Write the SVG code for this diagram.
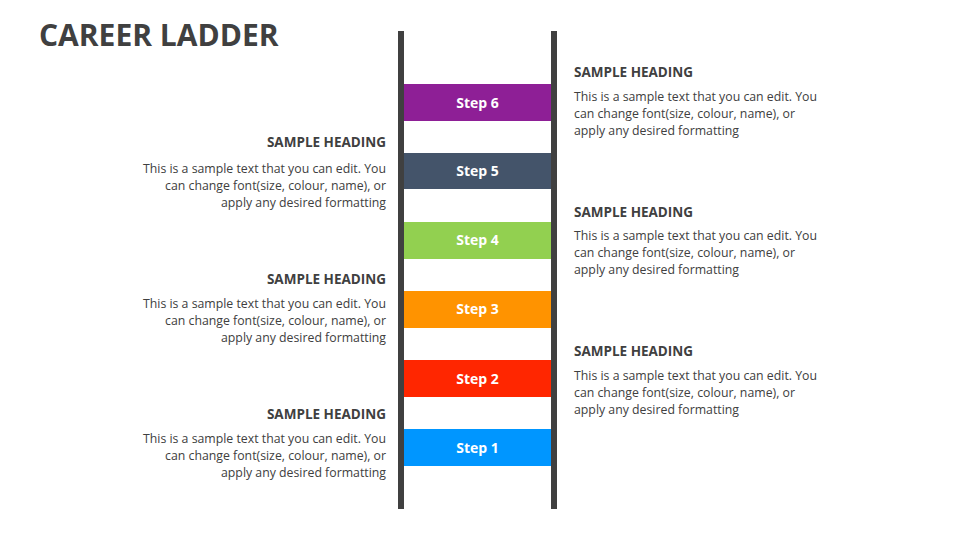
<svg xmlns="http://www.w3.org/2000/svg" width="960" height="540" viewBox="0 0 960 540">
<style>
.t{font-family:"Open Sans","Liberation Sans",sans-serif;fill:#404040}
.h{font-size:13.5px;font-weight:bold}
.b{font-size:12.3px}
.s{font-family:"Open Sans","Liberation Sans",sans-serif;font-size:14px;font-weight:bold;fill:#fff;text-anchor:middle}
.rail{fill:#404040}
</style>
<rect width="960" height="540" fill="#fff"/>
<text x="39" y="46" class="t" style="font-size:30px;font-weight:bold">CAREER LADDER</text>
<g id="rails"><rect class="rail" x="398" y="31" width="6" height="478"/><rect class="rail" x="551" y="31" width="6" height="478"/></g>
<g id="step6"><rect x="404" y="84" width="147" height="37" fill="#8E1F96"/><text class="s" x="477.5" y="108">Step 6</text></g>
<g id="step5"><rect x="404" y="153" width="147" height="36" fill="#44546A"/><text class="s" x="477.5" y="176">Step 5</text></g>
<g id="step4"><rect x="404" y="222" width="147" height="37" fill="#92D050"/><text class="s" x="477.5" y="245">Step 4</text></g>
<g id="step3"><rect x="404" y="291" width="147" height="37" fill="#FF9300"/><text class="s" x="477.5" y="314">Step 3</text></g>
<g id="step2"><rect x="404" y="360" width="147" height="37" fill="#FF2600"/><text class="s" x="477.5" y="384">Step 2</text></g>
<g id="step1"><rect x="404" y="429" width="147" height="37" fill="#0096FF"/><text class="s" x="477.5" y="453">Step 1</text></g>
<g id="text-r1" class="t"><text class="h" x="574" y="77">SAMPLE HEADING</text><text class="b" x="574" y="101">This is a sample text that you can edit. You</text><text class="b" x="574" y="118">can change font(size, colour, name), or</text><text class="b" x="574" y="135">apply any desired formatting</text></g>
<g id="text-r2" class="t"><text class="h" x="574" y="217">SAMPLE HEADING</text><text class="b" x="574" y="240">This is a sample text that you can edit. You</text><text class="b" x="574" y="257">can change font(size, colour, name), or</text><text class="b" x="574" y="274">apply any desired formatting</text></g>
<g id="text-r3" class="t"><text class="h" x="574" y="356">SAMPLE HEADING</text><text class="b" x="574" y="380">This is a sample text that you can edit. You</text><text class="b" x="574" y="397">can change font(size, colour, name), or</text><text class="b" x="574" y="414">apply any desired formatting</text></g>
<g id="text-l1" class="t" text-anchor="end"><text class="h" x="386" y="147">SAMPLE HEADING</text><text class="b" x="386" y="173">This is a sample text that you can edit. You</text><text class="b" x="386" y="190">can change font(size, colour, name), or</text><text class="b" x="386" y="207">apply any desired formatting</text></g>
<g id="text-l2" class="t" text-anchor="end"><text class="h" x="386" y="284">SAMPLE HEADING</text><text class="b" x="386" y="308">This is a sample text that you can edit. You</text><text class="b" x="386" y="325">can change font(size, colour, name), or</text><text class="b" x="386" y="342">apply any desired formatting</text></g>
<g id="text-l3" class="t" text-anchor="end"><text class="h" x="386" y="419">SAMPLE HEADING</text><text class="b" x="386" y="443">This is a sample text that you can edit. You</text><text class="b" x="386" y="460">can change font(size, colour, name), or</text><text class="b" x="386" y="477">apply any desired formatting</text></g>
</svg>
